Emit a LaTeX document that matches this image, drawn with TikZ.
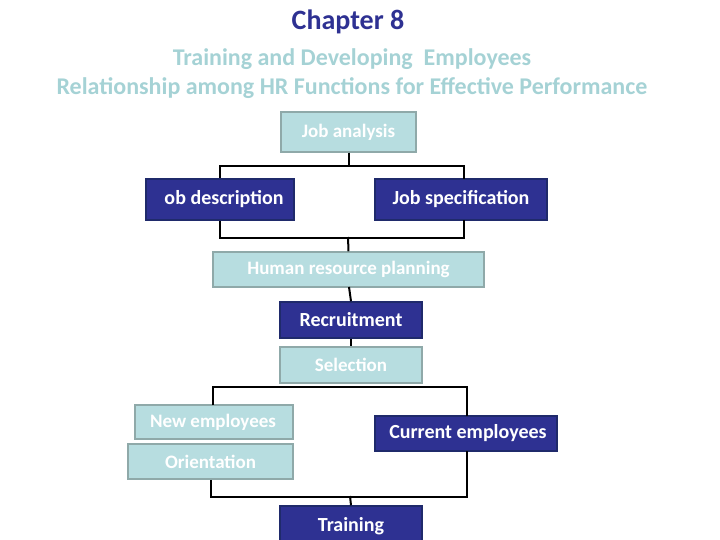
\documentclass[tikz,border=0pt]{standalone}
\usepackage{fontspec}
\setmainfont{Carlito}
\definecolor{dk}{HTML}{2E3192}
\definecolor{dkb}{HTML}{1F2A6B}
\definecolor{lt}{HTML}{B7DDE0}
\definecolor{ltb}{HTML}{8FA9A9}
\definecolor{tt}{HTML}{A5D2D5}
\begin{document}
\begin{tikzpicture}[x=1pt,y=-1pt,
 dbox/.style={draw=dkb,fill=dk,line width=1.5pt,text=white,font=\bfseries\fontsize{20}{24}\selectfont,inner sep=0},
 lbox/.style={draw=ltb,fill=lt,line width=1.5pt,text=white,font=\bfseries\fontsize{19}{23}\selectfont,inner sep=0},
 ttl/.style={text=tt,font=\bfseries\fontsize{24}{28}\selectfont},
 ln/.style={line width=2pt,black}]
\useasboundingbox (0,0) rectangle (720,540);
\node[text=dk,font=\bfseries\fontsize{28}{32}\selectfont] (t0) at (348,22) {Chapter 8};
\node[ttl] (t1) at (352,59) {Training and Developing\ \ Employees};
\node[ttl] (t2) at (352,88) {Relationship among HR Functions for Effective Performance};
\node[lbox,minimum width=135,minimum height=40] (ja) at (348.5,132) {Job analysis};
\node[dbox,minimum width=148,minimum height=41] (jd) at (220,199.5) {\hspace*{8pt}ob description};
\node[dbox,minimum width=172,minimum height=41] (js) at (461,199.5) {Job specification};
\node[lbox,minimum width=271,minimum height=35] (hrp) at (348.5,269.5) {Human resource planning};
\node[dbox,minimum width=142,minimum height=36] (rec) at (351,320) {Recruitment};
\node[lbox,minimum width=142,minimum height=36] (sel) at (351,365) {Selection};
\node[lbox,minimum width=158,minimum height=34] (ne) at (214,422) {New employees\hspace*{2pt}};
\node[lbox,minimum width=165,minimum height=35] (or) at (210.5,461.5) {Orientation};
\node[dbox,minimum width=182,minimum height=35] (ce) at (466,433.5) {\hspace*{4pt}Current employees};
\node[dbox,minimum width=142,minimum height=40] (tr) at (351,526) {Training};
\draw[ln] (ja.south) -- ++(0,13) -| (jd.north);
\draw[ln] (ja.south) -- ++(0,13) -| (464,179);
\draw[ln] (jd.south) -- ++(0,17) -| (464,220);
\draw[ln] (hrp.north) -- (348,237);
\draw[ln] (349,287) -- (rec.north);
\draw[ln] (rec.south) -- (sel.north);
\draw[ln] (213,405) |- (467,387) -- (467,416);
\draw[ln] (or.south) -- ++(0,17) -| (467,451);
\draw[ln] (350,496) -- (tr.north);
\end{tikzpicture}
\end{document}
